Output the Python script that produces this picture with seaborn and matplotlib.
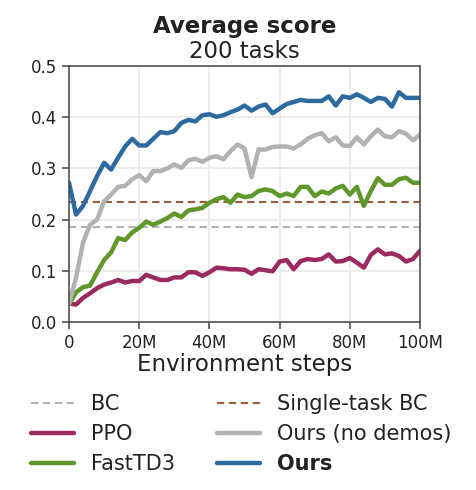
import numpy as np
import pandas as pd
import matplotlib
matplotlib.use("Agg")
import matplotlib.pyplot as plt
import seaborn as sns

# environment steps in millions
steps = list(range(0, 101, 2))

ours = [0.272, 0.210, 0.227, 0.256, 0.285, 0.311, 0.298, 0.321, 0.343, 0.358,
        0.345, 0.345, 0.358, 0.371, 0.369, 0.373, 0.389, 0.395, 0.392, 0.404,
        0.406, 0.401, 0.404, 0.410, 0.415, 0.423, 0.413, 0.421, 0.425, 0.408,
        0.417, 0.426, 0.430, 0.434, 0.432, 0.432, 0.432, 0.441, 0.423, 0.441,
        0.438, 0.445, 0.438, 0.430, 0.438, 0.436, 0.421, 0.449, 0.438, 0.438,
        0.438]
ours_no_demos = [0.035, 0.087, 0.155, 0.190, 0.200, 0.236, 0.249, 0.264, 0.266, 0.279,
                 0.287, 0.275, 0.295, 0.295, 0.300, 0.308, 0.301, 0.316, 0.319, 0.313,
                 0.321, 0.324, 0.318, 0.334, 0.347, 0.339, 0.283, 0.337, 0.337, 0.342,
                 0.343, 0.343, 0.339, 0.347, 0.358, 0.365, 0.369, 0.353, 0.361, 0.345,
                 0.344, 0.361, 0.347, 0.363, 0.376, 0.363, 0.361, 0.373, 0.368, 0.355,
                 0.366]
fasttd3 = [0.035, 0.058, 0.068, 0.071, 0.097, 0.121, 0.136, 0.164, 0.160, 0.175,
           0.184, 0.196, 0.190, 0.196, 0.203, 0.212, 0.205, 0.218, 0.220, 0.223,
           0.233, 0.240, 0.244, 0.233, 0.249, 0.244, 0.246, 0.256, 0.259, 0.256,
           0.246, 0.251, 0.246, 0.264, 0.264, 0.246, 0.255, 0.251, 0.261, 0.266,
           0.249, 0.264, 0.227, 0.256, 0.281, 0.268, 0.268, 0.279, 0.282, 0.272,
           0.272]
ppo = [0.036, 0.034, 0.047, 0.056, 0.066, 0.073, 0.077, 0.082, 0.077, 0.080,
       0.080, 0.092, 0.087, 0.082, 0.082, 0.087, 0.087, 0.097, 0.097, 0.090,
       0.097, 0.106, 0.105, 0.103, 0.103, 0.102, 0.094, 0.103, 0.101, 0.099,
       0.118, 0.121, 0.103, 0.119, 0.123, 0.121, 0.123, 0.132, 0.118, 0.119,
       0.125, 0.116, 0.106, 0.131, 0.142, 0.132, 0.134, 0.129, 0.118, 0.123,
       0.139]

bc_score = 0.186
single_task_bc_score = 0.234

methods = ["PPO", "FastTD3", "Ours (no demos)", "Ours"]
colors = {"PPO": "#9b2a5f", "FastTD3": "#5f972a", "Ours (no demos)": "#b2b2b2",
          "Ours": "#2d6a9f", "BC": "#b2b2b2", "Single-task BC": "#9a5d3c"}

df = pd.DataFrame({
    "steps": steps * 4,
    "score": ppo + fasttd3 + ours_no_demos + ours,
    "method": sum([[m] * len(steps) for m in methods], []),
})

sns.set_style("ticks")
plt.rcParams["font.family"] = ["DejaVu Sans"]

fig = plt.figure(figsize=(4.77, 4.90), dpi=100)
ax = fig.add_axes([0.1447, 0.343, 0.7358, 0.522])

ax.axhline(bc_score, color=colors["BC"], ls=(0, (3.5, 2.2)), lw=1.5, label="BC")
ax.axhline(single_task_bc_score, color=colors["Single-task BC"], ls=(0, (3.5, 2.2)),
           lw=1.5, label="Single-task BC")
sns.lineplot(data=df, x="steps", y="score", hue="method", hue_order=methods,
             palette=colors, lw=3.2, ax=ax)

ax.set_xlim(0, 100)
ax.set_ylim(0, 0.5)
ax.set_xticks([0, 20, 40, 60, 80, 100])
ax.set_xticklabels(["0", "20M", "40M", "60M", "80M", "100M"])
ax.set_yticks([0.0, 0.1, 0.2, 0.3, 0.4, 0.5])
ax.set_yticklabels(["0.0", "0.1", "0.2", "0.3", "0.4", "0.5"])
ax.tick_params(labelsize=12, length=5, width=1.1, color="#444444", labelcolor="#222222")
ax.grid(True, color="#ebebeb", lw=1.3)
ax.set_axisbelow(True)
for s in ax.spines.values():
    s.set_color("#444444")
    s.set_linewidth(1.1)

ax.set_xlabel("Environment steps", fontsize=16.5, color="#222222", labelpad=1)
ax.set_ylabel("")
ax.set_title("200 tasks", fontsize=16.5, color="#222222", pad=6)
ax.text(0.5, 1.11, "Average score", transform=ax.transAxes, ha="center", va="bottom",
        fontsize=16.5, fontweight="bold", color="#222222")

handles, labels = ax.get_legend_handles_labels()
lookup = dict(zip(labels, handles))
order = ["BC", "PPO", "FastTD3", "Single-task BC", "Ours (no demos)", "Ours"]
leg = ax.legend([lookup[k] for k in order], order, ncol=2, frameon=False,
                loc="upper center", bbox_to_anchor=(0.49, -0.21), fontsize=15,
                handlelength=2.1, columnspacing=2.0, labelspacing=0.48, handletextpad=0.8)
for t in leg.get_texts():
    t.set_color("#222222")
    if t.get_text() == "Ours":
        t.set_fontweight("bold")

fig.savefig("out.png", dpi=100)
